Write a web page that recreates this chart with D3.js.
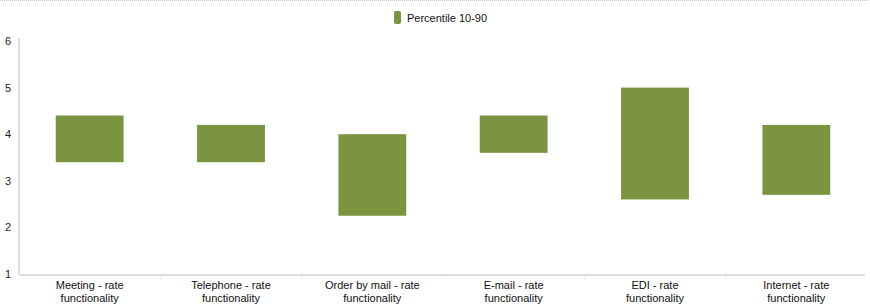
<!DOCTYPE html>
<html>
<head>
<meta charset="utf-8">
<script src="https://cdn.jsdelivr.net/npm/d3@7"></script>
<style>
  body { margin: 0; background: #fff; }
  text { font-family: "Liberation Sans", Arial, sans-serif; }
</style>
</head>
<body>
<svg id="chart"></svg>
<script>
// Data
const categories = [
  "Meeting - rate functionality",
  "Telephone - rate functionality",
  "Order by mail - rate functionality",
  "E-mail - rate functionality",
  "EDI - rate functionality",
  "Internet - rate functionality"
];
const p10 = [3.4, 3.4, 2.25, 3.6, 2.6, 2.7];
const p90 = [4.4, 4.2, 4.0, 4.4, 5.0, 4.2];
const yTicks = [1, 2, 3, 4, 5, 6];
const seriesName = "Percentile 10-90";

const width = 870;
const height = 308;
const margin = { top: 41, right: 5, bottom: 34, left: 19 };
const barColor = "#7a943f";

const svg = d3.select("#chart")
  .attr("width", width)
  .attr("height", height);

// dotted line along the top edge
svg.append("line")
  .attr("x1", 0).attr("x2", width)
  .attr("y1", 0.5).attr("y2", 0.5)
  .attr("stroke", "#c8c8c8")
  .attr("stroke-dasharray", "1,1");

const x = d3.scaleBand()
  .domain(categories)
  .range([margin.left, width - 3])
  .paddingInner(0.52)
  .paddingOuter(0.26);

const y = d3.scaleLinear()
  .domain([1, 6])
  .range([height - margin.bottom, margin.top]);

// y axis line
svg.append("line")
  .attr("x1", margin.left).attr("x2", margin.left)
  .attr("y1", margin.top - 3).attr("y2", height - margin.bottom)
  .attr("stroke", "#dcdcdc")
  .attr("stroke-width", 2);

// y tick labels
svg.append("g")
  .selectAll("text")
  .data(yTicks)
  .enter()
  .append("text")
  .attr("x", 11)
  .attr("y", d => y(d) + 4)
  .attr("text-anchor", "end")
  .style("font-size", "11px")
  .attr("fill", "#222")
  .text(d => d);

// x axis line
svg.append("line")
  .attr("x1", margin.left).attr("x2", width - margin.right)
  .attr("y1", height - margin.bottom + 1).attr("y2", height - margin.bottom + 1)
  .attr("stroke", "#dcdcdc")
  .attr("stroke-width", 2);

// band boundary ticks
const bounds = categories.slice(1).map(d => x(d) - x.step() * x.paddingInner() / 2);
svg.append("g")
  .selectAll("line")
  .data(bounds)
  .enter()
  .append("line")
  .attr("x1", d => d).attr("x2", d => d)
  .attr("y1", height - margin.bottom + 1)
  .attr("y2", height - margin.bottom + 5)
  .attr("stroke", "#e4e4e4");

// bars (floating, p10 to p90)
svg.append("g")
  .selectAll("rect")
  .data(categories)
  .enter()
  .append("rect")
  .attr("x", d => x(d))
  .attr("width", x.bandwidth())
  .attr("y", (d, i) => y(p90[i]))
  .attr("height", (d, i) => y(p10[i]) - y(p90[i]))
  .attr("fill", barColor);

// category labels, two lines
const labels = svg.append("g")
  .selectAll("text")
  .data(categories)
  .enter()
  .append("text")
  .attr("x", d => x(d) + x.bandwidth() / 2)
  .attr("y", height - margin.bottom + 15)
  .attr("text-anchor", "middle")
  .style("font-size", "11px")
  .attr("fill", "#111");

labels.each(function(d) {
  const parts = d.split(" - rate ");
  const t = d3.select(this);
  t.append("tspan")
    .attr("x", x(d) + x.bandwidth() / 2)
    .attr("dy", 0)
    .text(parts[0] + " - rate");
  t.append("tspan")
    .attr("x", x(d) + x.bandwidth() / 2)
    .attr("dy", 13)
    .text(parts[1]);
});

// legend
const legend = svg.append("g").attr("transform", "translate(394, 11)");
legend.append("rect")
  .attr("width", 7)
  .attr("height", 13)
  .attr("rx", 2)
  .attr("fill", barColor);
legend.append("text")
  .attr("x", 13)
  .attr("y", 11)
  .style("font-size", "11px")
  .attr("fill", "#111")
  .text(seriesName);
</script>
</body>
</html>
